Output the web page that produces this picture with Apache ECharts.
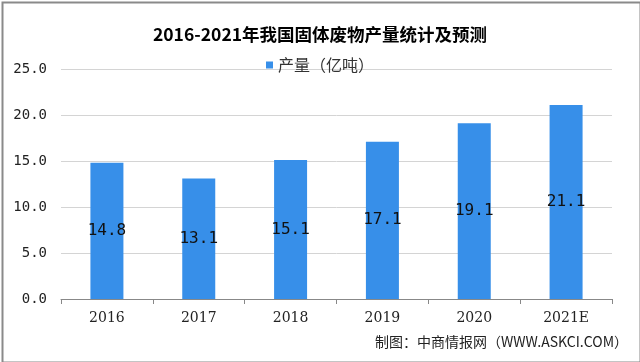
<!DOCTYPE html>
<html><head><meta charset="utf-8">
<script src="https://cdn.jsdelivr.net/npm/echarts@6/dist/echarts.min.js"></script>
<style>html,body{margin:0;padding:0;background:#fff}#c{width:640px;height:362px}</style>
</head><body><div id="c"></div>
<script>
const categories = ['2016','2017','2018','2019','2020','2021E'];
const production = [14.8, 13.1, 15.1, 17.1, 19.1, 21.1];
const seriesName = '产量（亿吨）';
const titleText = '2016-2021年我国固体废物产量统计及预测';
const footerText = '制图：中商情报网（WWW.ASKCI.COM）';

const chart = echarts.init(document.getElementById('c'));
chart.setOption({
  animation: false,
  backgroundColor: '#fff',
  title: {
    text: titleText, left: 'center', top: 21,
    textStyle: {fontSize: 17.5, fontWeight: 'bold', color: '#000', fontFamily: 'Noto Sans CJK SC'}
  },
  legend: {
    data: [seriesName], top: 52, left: 'center',
    icon: 'rect', itemWidth: 7, itemHeight: 7, itemGap: 4,
    textStyle: {fontSize: 16, color: '#333', fontFamily: 'Noto Sans CJK SC'}
  },
  grid: {left: 61, right: 28, top: 69, bottom: 63},
  xAxis: {
    type: 'category', data: categories,
    axisLine: {lineStyle: {color: '#888'}},
    axisTick: {show: true, length: 5, lineStyle: {color: '#888'}},
    axisLabel: {fontSize: 14, color: '#222', margin: 12, fontFamily: 'DejaVu Serif'}
  },
  yAxis: {
    type: 'value', min: 0, max: 25, interval: 5,
    axisLine: {show: false}, axisTick: {show: false},
    splitLine: {lineStyle: {color: '#d4d4d4'}},
    axisLabel: {fontSize: 14, color: '#222', margin: 14, fontFamily: 'DejaVu Sans Mono',
      formatter: v => v.toFixed(1)}
  },
  series: [{
    name: seriesName, type: 'bar', data: production, barWidth: 33,
    itemStyle: {color: '#378fe9'},
    label: {show: true, position: 'inside', fontSize: 16, color: '#111',
      fontFamily: 'DejaVu Sans Mono', formatter: p => p.value.toFixed(1)}
  }],
  graphic: [
    {type: 'text', right: 12, top: 335,
      style: {text: footerText, fontSize: 14, fill: '#222', fontFamily: 'Noto Sans CJK SC'}},
    {type: 'rect', left: 0, top: 0, shape: {x: 1, y: 1, width: 638, height: 360},
      style: {fill: 'none', stroke: '#8a8a8a', lineWidth: 2}}
  ]
});
</script></body></html>
